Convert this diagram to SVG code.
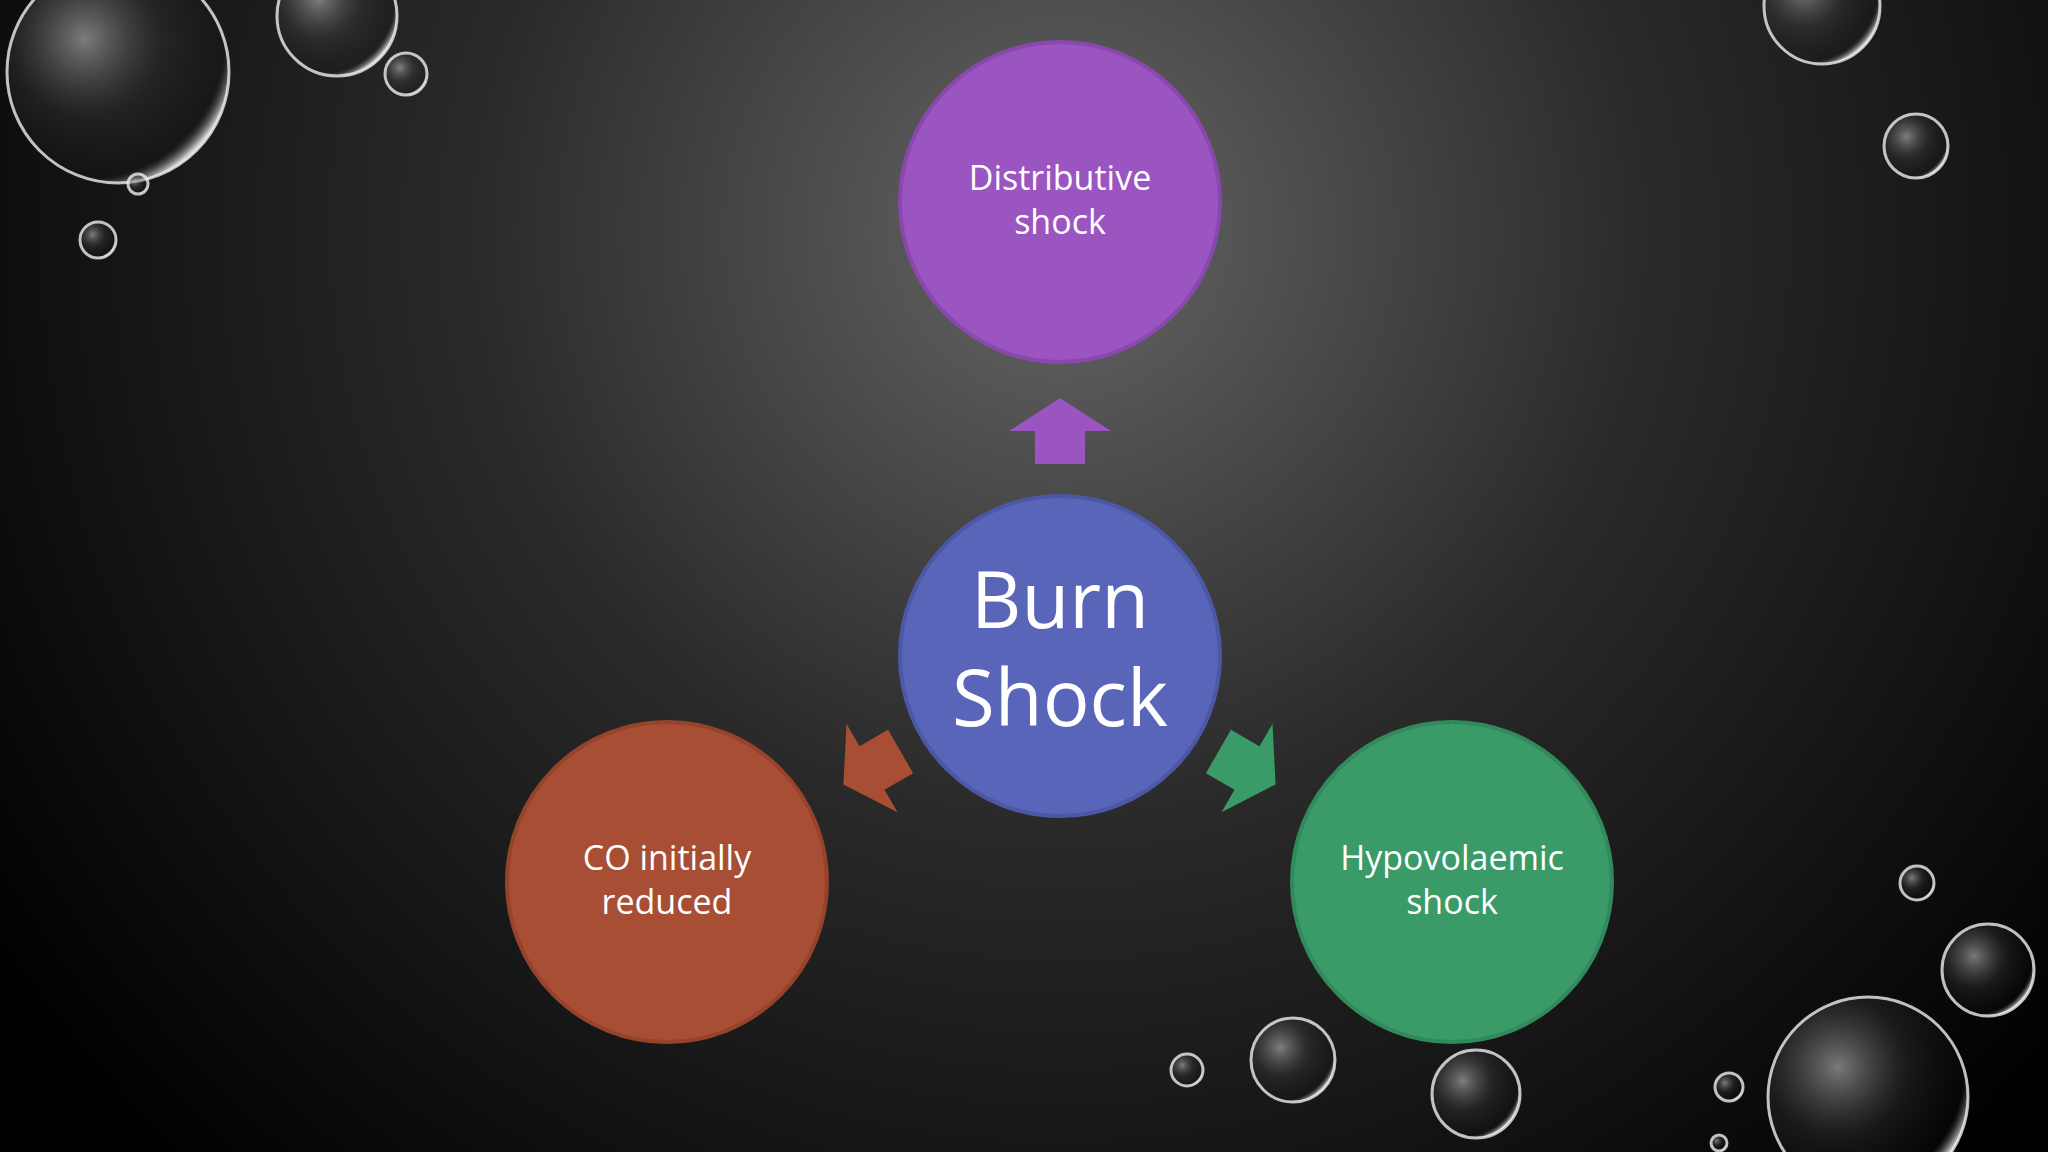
<svg xmlns="http://www.w3.org/2000/svg" width="2048" height="1152" viewBox="0 0 2048 1152">
<defs>
<radialGradient id="bg" cx="1060" cy="230" r="1300" gradientUnits="userSpaceOnUse">
<stop offset="0" stop-color="#666"/><stop offset="0.45" stop-color="#2a2a2a"/><stop offset="1" stop-color="#000"/>
</radialGradient>
<radialGradient id="bub" cx="0.35" cy="0.35" r="0.7">
<stop offset="0" stop-color="#aaa" stop-opacity="0.7"/><stop offset="0.5" stop-color="#444" stop-opacity="0.3"/><stop offset="0.9" stop-color="#111" stop-opacity="0.2"/><stop offset="1" stop-color="#fff" stop-opacity="0.8"/>
</radialGradient>
<polygon id="arr" points="0,-33 51,0 25,0 25,33 -25,33 -25,0 -51,0"/>
</defs>
<style>
.b{fill:url(#bub);stroke:#eee;stroke-width:3;stroke-opacity:0.8}
.n{stroke-width:4}
.t{font-family:"Open Sans","Noto Sans",sans-serif;fill:#fff;text-anchor:middle}
.s{font-size:34px}
</style>
<rect width="2048" height="1152" fill="url(#bg)"/>
<g id="bubbles">
<circle class="b" cx="118" cy="72" r="111"/><circle class="b" cx="337" cy="16" r="60"/><circle class="b" cx="406" cy="74" r="21"/>
<circle class="b" cx="138" cy="184" r="10"/><circle class="b" cx="98" cy="240" r="18"/><circle class="b" cx="1822" cy="6" r="58"/>
<circle class="b" cx="1916" cy="146" r="32"/><circle class="b" cx="1917" cy="883" r="17"/><circle class="b" cx="1988" cy="970" r="46"/>
<circle class="b" cx="1868" cy="1097" r="100"/><circle class="b" cx="1729" cy="1087" r="14"/><circle class="b" cx="1719" cy="1143" r="8"/>
<circle class="b" cx="1293" cy="1060" r="42"/><circle class="b" cx="1476" cy="1094" r="44"/><circle class="b" cx="1187" cy="1070" r="16"/>
</g>
<g id="connectors">
<use href="#arr" transform="translate(1060,431)" fill="#9b55c0"/>
<use href="#arr" transform="translate(872,768) rotate(-120)" fill="#a84e35"/>
<use href="#arr" transform="translate(1247,768) rotate(120)" fill="#3a9a68"/>
</g>
<g id="distributive"><circle class="n" cx="1060" cy="202" r="160" fill="#9b55c0" stroke="#8a48ae"/>
<text class="t s" x="1060" y="190">Distributive</text><text class="t s" x="1060" y="234">shock</text></g>
<g id="burn"><circle class="n" cx="1060" cy="656" r="160" fill="#5865b8" stroke="#4c58a6"/>
<text class="t" font-size="78" x="1060" y="628">Burn</text><text class="t" font-size="78" x="1060" y="726">Shock</text></g>
<g id="co"><circle class="n" cx="667" cy="882" r="160" fill="#a84e35" stroke="#96432c"/>
<text class="t s" x="667" y="870">CO initially</text><text class="t s" x="667" y="914">reduced</text></g>
<g id="hypo"><circle class="n" cx="1452" cy="882" r="160" fill="#3a9a68" stroke="#318a5c"/>
<text class="t s" x="1452" y="870">Hypovolaemic</text><text class="t s" x="1452" y="914">shock</text></g>
</svg>
